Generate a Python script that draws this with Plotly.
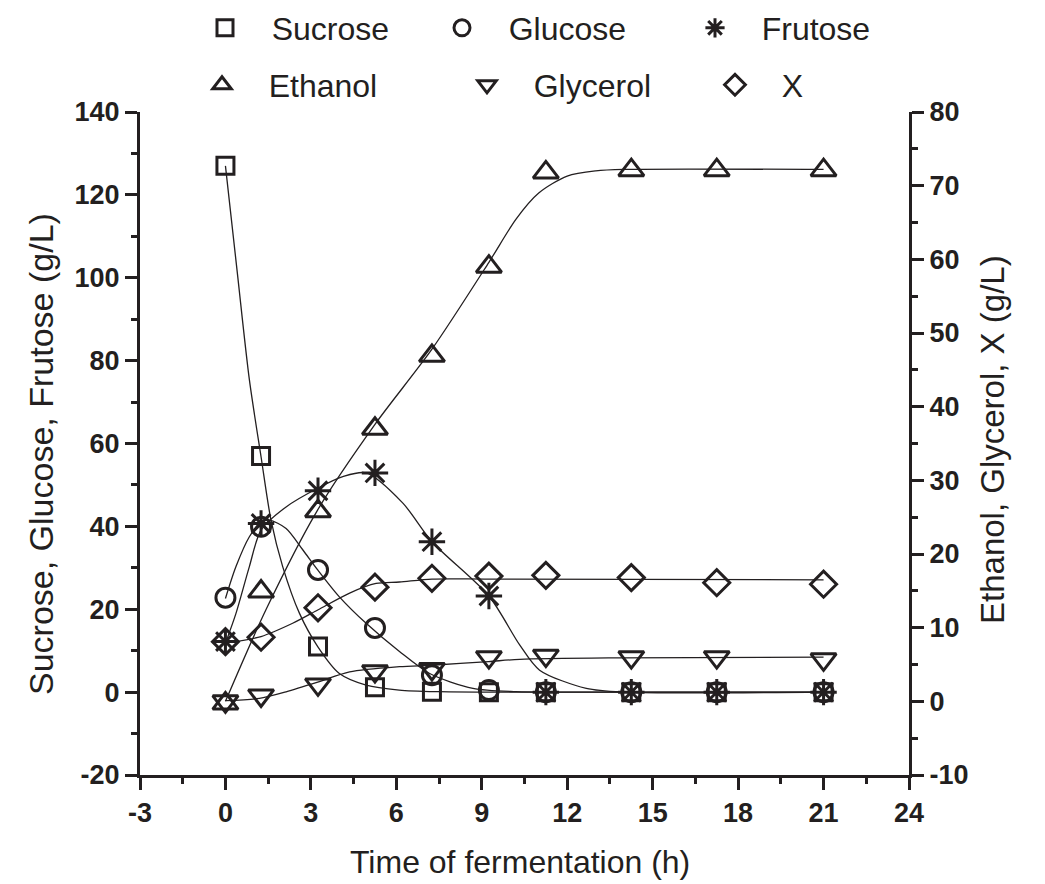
import plotly.graph_objects as go

# ---------------- data ----------------
time = [0, 1.25, 3.25, 5.25, 7.25, 9.25, 11.25, 14.25, 17.25, 21]
sucrose = [127, 57, 11, 1.2, 0.1, 0, 0, 0, 0, 0]
glucose = [22.8, 39.9, 29.5, 15.5, 4.1, 0.5, 0, 0, 0, 0]
frutose = [12.2, 40.7, 48.6, 52.9, 36.3, 23.2, 0, 0, 0, 0]
ethanol = [-0.3, 14.9, 25.8, 37.0, 46.9, 59.0, 71.8, 72.1, 72.1, 72.1]
glycerol = [0.0, 0.8, 2.3, 4.1, 4.4, 6.0, 6.2, 6.0, 6.0, 5.7]
biomass_x = [8.1, 8.7, 12.7, 15.5, 16.7, 17.0, 17.1, 16.8, 16.1, 15.9]

# fitted model curves
suc_fit_t = [0, 0.42, 0.84, 1.25, 1.6, 2.01, 2.6, 3.24, 4.0, 4.94, 6.1, 7.5, 9, 12, 21]
suc_fit_v = [127, 101, 75.4, 56.8, 41.5, 30.3, 19, 11, 4.5, 1.7, 0.5, 0.1, 0, 0, 0]
glu_fit_t = [0, 0.37, 0.84, 1.25, 1.55, 2.13, 2.72, 3.24, 4.0, 4.94, 6.11, 7.17, 8.69, 10.2, 12, 21]
glu_fit_v = [22.6, 30.3, 37.5, 41.1, 41.5, 39.5, 34.3, 29.5, 23, 16.6, 9.8, 4.5, 0.9, 0.1, 0, 0]
fru_fit_t = [0, 0.37, 0.84, 1.25, 2.13, 3.24, 4.12, 4.94, 6.23, 7.25, 9.25, 10.33, 11.03, 12.67, 14, 21]
fru_fit_v = [11.8, 19, 30.3, 39.1, 44.7, 49.2, 52, 52.9, 45.6, 36.3, 23.2, 11.4, 5.3, 0.9, 0, 0]
eth_fit_t = [0, 1.43, 3.24, 5.25, 7.25, 9.25, 10.21, 11.0, 12.0, 13.0, 14.0, 21]
eth_fit_v = [0, 12.5, 26.0, 37.6, 47.8, 59.6, 65.5, 69.0, 71.3, 72.0, 72.2, 72.2]
gly_fit_t = [0, 1.19, 2.13, 3.24, 4.36, 6.11, 7.25, 9.24, 10.33, 13.84, 21]
gly_fit_v = [0.1, 0.4, 1.3, 2.6, 4.0, 4.7, 4.9, 5.4, 5.7, 5.9, 6.0]
x_fit_t = [0, 1.25, 2.36, 3.24, 4.36, 5.29, 6.11, 7.25, 9.25, 21]
x_fit_v = [7.9, 8.8, 10.6, 12.4, 14.7, 16.0, 16.2, 16.6, 16.6, 16.5]

x_ticks = [-3, 0, 3, 6, 9, 12, 15, 18, 21, 24]
left_ticks = [-20, 0, 20, 40, 60, 80, 100, 120, 140]
right_ticks = [-10, 0, 10, 20, 30, 40, 50, 60, 70, 80]

# ---------------- style ----------------
INK = "#231f20"
FONT = "Liberation Sans, Arial, sans-serif"
OFF = 8                      # page body margin of the html page
PAGE_W, PAGE_H = 1045, 884
W, H = PAGE_W - OFF, PAGE_H - OFF
PL, PR, PT, PB = 140, 909, 112, 775   # plot area in page pixels
L, R, T, B = PL - OFF, PAGE_W - PR, PT - OFF, PAGE_H - PB

fig = go.Figure()

curves = [
    (suc_fit_t, suc_fit_v, "y"),
    (glu_fit_t, glu_fit_v, "y"),
    (fru_fit_t, fru_fit_v, "y"),
    (eth_fit_t, eth_fit_v, "y2"),
    (gly_fit_t, gly_fit_v, "y2"),
    (x_fit_t, x_fit_v, "y2"),
]
for t, v, ax in curves:
    fig.add_trace(go.Scatter(x=t, y=v, yaxis=ax, mode="lines",
                             line=dict(color=INK, width=1.3, shape="spline", smoothing=0.8),
                             showlegend=False, hoverinfo="skip"))

nb = "\u00a0\u00a0\u00a0"
series = [
    ("Sucrose", sucrose, "y", "square-open", 17, "legend"),
    ("Glucose", glucose, "y", "circle-open", 19, "legend2"),
    ("Frutose", frutose, "y", "asterisk-open", 22, "legend3"),
    ("Ethanol", ethanol, "y2", "triangle-up-open", 22, "legend4"),
    ("Glycerol", glycerol, "y2", "triangle-down-open", 22, "legend5"),
    ("X", biomass_x, "y2", "diamond-open", 20, "legend6"),
]
for name, vals, ax, sym, size, lg in series:
    fig.add_trace(go.Scatter(x=time, y=vals, yaxis=ax, mode="markers", name=nb + name,
                             marker=dict(symbol=sym, size=size, color=INK,
                                         line=dict(color=INK, width=3)),
                             legend=lg))

# legend positions (symbol centre px, row centre px) in page pixels
leg_pos = {"legend": (225, 28), "legend2": (462, 28), "legend3": (715, 28),
           "legend4": (222, 85), "legend5": (487, 85), "legend6": (735, 85)}
legend_layout = {}
for key, (sx, sy) in leg_pos.items():
    legend_layout[key] = dict(x=(sx - 20 - OFF) / W, y=(H - (sy - OFF)) / H,
                              xref="container", yref="container",
                              xanchor="left", yanchor="middle", bgcolor="rgba(0,0,0,0)",
                              borderwidth=0, font=dict(family=FONT, size=32, color=INK),
                              itemsizing="trace")

tickfont = dict(family=FONT, size=27, color=INK, weight="bold")
axis_common = dict(showline=True, linewidth=3, linecolor=INK, ticks="outside", ticklen=12,
                   tickwidth=3, tickcolor=INK, showgrid=False, zeroline=False,
                   tickfont=tickfont, mirror=False)

fig.update_layout(
    width=W, height=H, margin=dict(l=L, r=R, t=T, b=B, autoexpand=False),
    paper_bgcolor="white", plot_bgcolor="white",
    xaxis=dict(range=[-3, 24], tickvals=x_ticks, ticktext=[str(v) for v in x_ticks],
               minor=dict(dtick=1.5, tick0=-3, ticks="outside", ticklen=6, tickwidth=3, tickcolor=INK),
               **axis_common),
    yaxis=dict(range=[-20, 140], tickvals=left_ticks, ticktext=[str(v) for v in left_ticks],
               minor=dict(dtick=10, tick0=-20, ticks="outside", ticklen=6, tickwidth=3, tickcolor=INK),
               **axis_common),
    yaxis2=dict(range=[-10, 80], tickvals=right_ticks, ticktext=[str(v) for v in right_ticks],
                overlaying="y", side="right",
                minor=dict(dtick=5, tick0=-10, ticks="outside", ticklen=6, tickwidth=3, tickcolor=INK),
                **axis_common),
    **legend_layout,
)

pw, ph = PR - PL, PB - PT
annots = [
    dict(text="Sucrose, Glucose, Frutose (g/L)", x=(41 - PL) / pw, y=(PB - 454) / ph,
         textangle=-90, font=dict(family=FONT, size=34, color=INK)),
    dict(text="Ethanol, Glycerol, X (g/L)", x=(992 - PL) / pw, y=(PB - 440) / ph,
         textangle=-90, font=dict(family=FONT, size=33, color=INK)),
    dict(text="Time of fermentation (h)", x=(519.5 - PL) / pw, y=(PB - 862) / ph,
         font=dict(family=FONT, size=32, color=INK)),
]
for a in annots:
    fig.add_annotation(xref="paper", yref="paper", showarrow=False,
                       xanchor="center", yanchor="middle", **a)

fig.write_html("out.html")
